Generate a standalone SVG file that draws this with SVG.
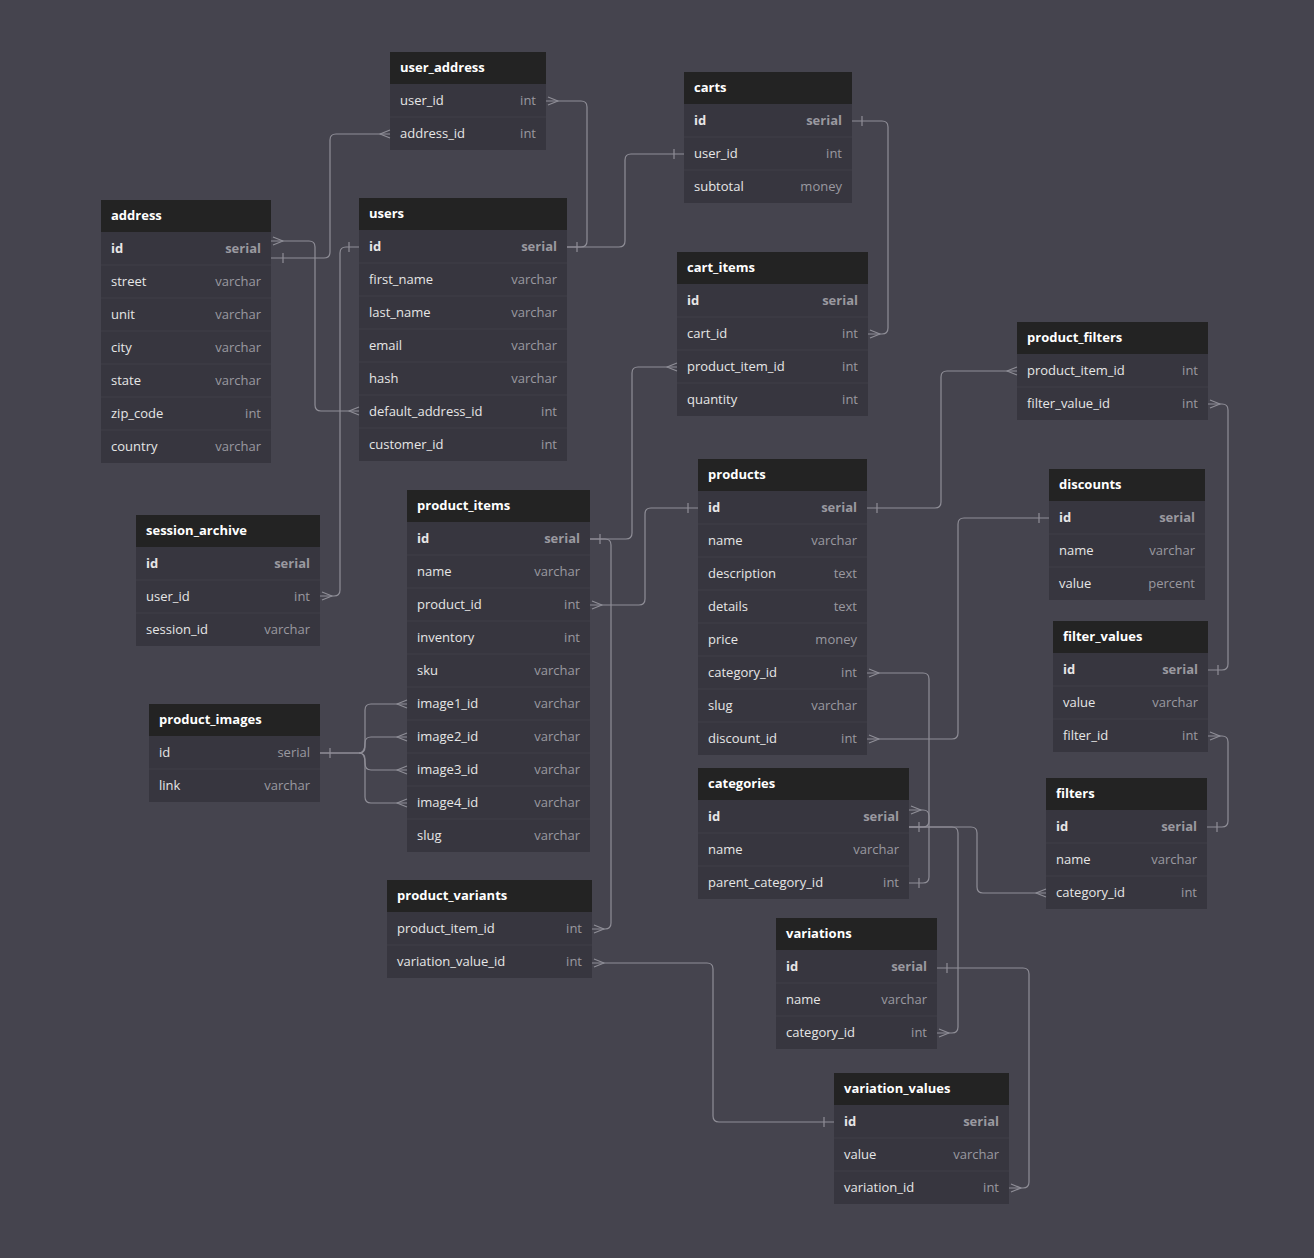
<svg xmlns="http://www.w3.org/2000/svg" width="1314" height="1258" viewBox="0 0 1314 1258">
<style>
.bg{fill:#45444e}
.hd{fill:#232323}
.bd{fill:#37363f}
.sep{stroke:#413f48;stroke-width:1}
.t{font-family:"Open Sans","Noto Sans",sans-serif;font-size:13px;fill:#e6e6e6}
.h{font-family:"Open Sans","Noto Sans",sans-serif;font-size:13px;font-weight:bold;fill:#ffffff}
.b{font-weight:bold}
.ty{font-family:"Open Sans","Noto Sans",sans-serif;font-size:13px;fill:#9a99a0;text-anchor:end}
.c{fill:none;stroke:#8f8e97;stroke-width:1.2;stroke-linejoin:round}
</style>
<rect class="bg" width="1314" height="1258"/>

<g id="user_address">
<rect class="hd" x="390" y="52" width="156" height="32"/><rect class="bd" x="390" y="84" width="156" height="66"/>
<line class="sep" x1="390" y1="117" x2="546" y2="117"/>
<text class="h" x="400" y="72">user_address</text>
<text class="t" x="400" y="105">user_id</text><text class="ty" x="536" y="105">int</text>
<text class="t" x="400" y="138">address_id</text><text class="ty" x="536" y="138">int</text>
</g>

<g id="carts">
<rect class="hd" x="684" y="72" width="168" height="32"/><rect class="bd" x="684" y="104" width="168" height="99"/>
<line class="sep" x1="684" y1="137" x2="852" y2="137"/><line class="sep" x1="684" y1="170" x2="852" y2="170"/>
<text class="h" x="694" y="92">carts</text>
<text class="t b" x="694" y="125">id</text><text class="ty b" x="842" y="125">serial</text>
<text class="t" x="694" y="158">user_id</text><text class="ty" x="842" y="158">int</text>
<text class="t" x="694" y="191">subtotal</text><text class="ty" x="842" y="191">money</text>
</g>

<g id="address">
<rect class="hd" x="101" y="200" width="170" height="32"/><rect class="bd" x="101" y="232" width="170" height="231"/>
<line class="sep" x1="101" y1="265" x2="271" y2="265"/><line class="sep" x1="101" y1="298" x2="271" y2="298"/><line class="sep" x1="101" y1="331" x2="271" y2="331"/><line class="sep" x1="101" y1="364" x2="271" y2="364"/><line class="sep" x1="101" y1="397" x2="271" y2="397"/><line class="sep" x1="101" y1="430" x2="271" y2="430"/>
<text class="h" x="111" y="220">address</text>
<text class="t b" x="111" y="253">id</text><text class="ty b" x="261" y="253">serial</text>
<text class="t" x="111" y="286">street</text><text class="ty" x="261" y="286">varchar</text>
<text class="t" x="111" y="319">unit</text><text class="ty" x="261" y="319">varchar</text>
<text class="t" x="111" y="352">city</text><text class="ty" x="261" y="352">varchar</text>
<text class="t" x="111" y="385">state</text><text class="ty" x="261" y="385">varchar</text>
<text class="t" x="111" y="418">zip_code</text><text class="ty" x="261" y="418">int</text>
<text class="t" x="111" y="451">country</text><text class="ty" x="261" y="451">varchar</text>
</g>

<g id="users">
<rect class="hd" x="359" y="198" width="208" height="32"/><rect class="bd" x="359" y="230" width="208" height="231"/>
<line class="sep" x1="359" y1="263" x2="567" y2="263"/><line class="sep" x1="359" y1="296" x2="567" y2="296"/><line class="sep" x1="359" y1="329" x2="567" y2="329"/><line class="sep" x1="359" y1="362" x2="567" y2="362"/><line class="sep" x1="359" y1="395" x2="567" y2="395"/><line class="sep" x1="359" y1="428" x2="567" y2="428"/>
<text class="h" x="369" y="218">users</text>
<text class="t b" x="369" y="251">id</text><text class="ty b" x="557" y="251">serial</text>
<text class="t" x="369" y="284">first_name</text><text class="ty" x="557" y="284">varchar</text>
<text class="t" x="369" y="317">last_name</text><text class="ty" x="557" y="317">varchar</text>
<text class="t" x="369" y="350">email</text><text class="ty" x="557" y="350">varchar</text>
<text class="t" x="369" y="383">hash</text><text class="ty" x="557" y="383">varchar</text>
<text class="t" x="369" y="416">default_address_id</text><text class="ty" x="557" y="416">int</text>
<text class="t" x="369" y="449">customer_id</text><text class="ty" x="557" y="449">int</text>
</g>

<g id="cart_items">
<rect class="hd" x="677" y="252" width="191" height="32"/><rect class="bd" x="677" y="284" width="191" height="132"/>
<line class="sep" x1="677" y1="317" x2="868" y2="317"/><line class="sep" x1="677" y1="350" x2="868" y2="350"/><line class="sep" x1="677" y1="383" x2="868" y2="383"/>
<text class="h" x="687" y="272">cart_items</text>
<text class="t b" x="687" y="305">id</text><text class="ty b" x="858" y="305">serial</text>
<text class="t" x="687" y="338">cart_id</text><text class="ty" x="858" y="338">int</text>
<text class="t" x="687" y="371">product_item_id</text><text class="ty" x="858" y="371">int</text>
<text class="t" x="687" y="404">quantity</text><text class="ty" x="858" y="404">int</text>
</g>

<g id="product_filters">
<rect class="hd" x="1017" y="322" width="191" height="32"/><rect class="bd" x="1017" y="354" width="191" height="66"/>
<line class="sep" x1="1017" y1="387" x2="1208" y2="387"/>
<text class="h" x="1027" y="342">product_filters</text>
<text class="t" x="1027" y="375">product_item_id</text><text class="ty" x="1198" y="375">int</text>
<text class="t" x="1027" y="408">filter_value_id</text><text class="ty" x="1198" y="408">int</text>
</g>

<g id="products">
<rect class="hd" x="698" y="459" width="169" height="32"/><rect class="bd" x="698" y="491" width="169" height="264"/>
<line class="sep" x1="698" y1="524" x2="867" y2="524"/><line class="sep" x1="698" y1="557" x2="867" y2="557"/><line class="sep" x1="698" y1="590" x2="867" y2="590"/><line class="sep" x1="698" y1="623" x2="867" y2="623"/><line class="sep" x1="698" y1="656" x2="867" y2="656"/><line class="sep" x1="698" y1="689" x2="867" y2="689"/><line class="sep" x1="698" y1="722" x2="867" y2="722"/>
<text class="h" x="708" y="479">products</text>
<text class="t b" x="708" y="512">id</text><text class="ty b" x="857" y="512">serial</text>
<text class="t" x="708" y="545">name</text><text class="ty" x="857" y="545">varchar</text>
<text class="t" x="708" y="578">description</text><text class="ty" x="857" y="578">text</text>
<text class="t" x="708" y="611">details</text><text class="ty" x="857" y="611">text</text>
<text class="t" x="708" y="644">price</text><text class="ty" x="857" y="644">money</text>
<text class="t" x="708" y="677">category_id</text><text class="ty" x="857" y="677">int</text>
<text class="t" x="708" y="710">slug</text><text class="ty" x="857" y="710">varchar</text>
<text class="t" x="708" y="743">discount_id</text><text class="ty" x="857" y="743">int</text>
</g>

<g id="discounts">
<rect class="hd" x="1049" y="469" width="156" height="32"/><rect class="bd" x="1049" y="501" width="156" height="99"/>
<line class="sep" x1="1049" y1="534" x2="1205" y2="534"/><line class="sep" x1="1049" y1="567" x2="1205" y2="567"/>
<text class="h" x="1059" y="489">discounts</text>
<text class="t b" x="1059" y="522">id</text><text class="ty b" x="1195" y="522">serial</text>
<text class="t" x="1059" y="555">name</text><text class="ty" x="1195" y="555">varchar</text>
<text class="t" x="1059" y="588">value</text><text class="ty" x="1195" y="588">percent</text>
</g>

<g id="filter_values">
<rect class="hd" x="1053" y="621" width="155" height="32"/><rect class="bd" x="1053" y="653" width="155" height="99"/>
<line class="sep" x1="1053" y1="686" x2="1208" y2="686"/><line class="sep" x1="1053" y1="719" x2="1208" y2="719"/>
<text class="h" x="1063" y="641">filter_values</text>
<text class="t b" x="1063" y="674">id</text><text class="ty b" x="1198" y="674">serial</text>
<text class="t" x="1063" y="707">value</text><text class="ty" x="1198" y="707">varchar</text>
<text class="t" x="1063" y="740">filter_id</text><text class="ty" x="1198" y="740">int</text>
</g>

<g id="filters">
<rect class="hd" x="1046" y="778" width="161" height="32"/><rect class="bd" x="1046" y="810" width="161" height="99"/>
<line class="sep" x1="1046" y1="843" x2="1207" y2="843"/><line class="sep" x1="1046" y1="876" x2="1207" y2="876"/>
<text class="h" x="1056" y="798">filters</text>
<text class="t b" x="1056" y="831">id</text><text class="ty b" x="1197" y="831">serial</text>
<text class="t" x="1056" y="864">name</text><text class="ty" x="1197" y="864">varchar</text>
<text class="t" x="1056" y="897">category_id</text><text class="ty" x="1197" y="897">int</text>
</g>

<g id="categories">
<rect class="hd" x="698" y="768" width="211" height="32"/><rect class="bd" x="698" y="800" width="211" height="99"/>
<line class="sep" x1="698" y1="833" x2="909" y2="833"/><line class="sep" x1="698" y1="866" x2="909" y2="866"/>
<text class="h" x="708" y="788">categories</text>
<text class="t b" x="708" y="821">id</text><text class="ty b" x="899" y="821">serial</text>
<text class="t" x="708" y="854">name</text><text class="ty" x="899" y="854">varchar</text>
<text class="t" x="708" y="887">parent_category_id</text><text class="ty" x="899" y="887">int</text>
</g>

<g id="variations">
<rect class="hd" x="776" y="918" width="161" height="32"/><rect class="bd" x="776" y="950" width="161" height="99"/>
<line class="sep" x1="776" y1="983" x2="937" y2="983"/><line class="sep" x1="776" y1="1016" x2="937" y2="1016"/>
<text class="h" x="786" y="938">variations</text>
<text class="t b" x="786" y="971">id</text><text class="ty b" x="927" y="971">serial</text>
<text class="t" x="786" y="1004">name</text><text class="ty" x="927" y="1004">varchar</text>
<text class="t" x="786" y="1037">category_id</text><text class="ty" x="927" y="1037">int</text>
</g>

<g id="variation_values">
<rect class="hd" x="834" y="1073" width="175" height="32"/><rect class="bd" x="834" y="1105" width="175" height="99"/>
<line class="sep" x1="834" y1="1138" x2="1009" y2="1138"/><line class="sep" x1="834" y1="1171" x2="1009" y2="1171"/>
<text class="h" x="844" y="1093">variation_values</text>
<text class="t b" x="844" y="1126">id</text><text class="ty b" x="999" y="1126">serial</text>
<text class="t" x="844" y="1159">value</text><text class="ty" x="999" y="1159">varchar</text>
<text class="t" x="844" y="1192">variation_id</text><text class="ty" x="999" y="1192">int</text>
</g>

<g id="session_archive">
<rect class="hd" x="136" y="515" width="184" height="32"/><rect class="bd" x="136" y="547" width="184" height="99"/>
<line class="sep" x1="136" y1="580" x2="320" y2="580"/><line class="sep" x1="136" y1="613" x2="320" y2="613"/>
<text class="h" x="146" y="535">session_archive</text>
<text class="t b" x="146" y="568">id</text><text class="ty b" x="310" y="568">serial</text>
<text class="t" x="146" y="601">user_id</text><text class="ty" x="310" y="601">int</text>
<text class="t" x="146" y="634">session_id</text><text class="ty" x="310" y="634">varchar</text>
</g>

<g id="product_items">
<rect class="hd" x="407" y="490" width="183" height="32"/><rect class="bd" x="407" y="522" width="183" height="330"/>
<line class="sep" x1="407" y1="555" x2="590" y2="555"/><line class="sep" x1="407" y1="588" x2="590" y2="588"/><line class="sep" x1="407" y1="621" x2="590" y2="621"/><line class="sep" x1="407" y1="654" x2="590" y2="654"/><line class="sep" x1="407" y1="687" x2="590" y2="687"/><line class="sep" x1="407" y1="720" x2="590" y2="720"/><line class="sep" x1="407" y1="753" x2="590" y2="753"/><line class="sep" x1="407" y1="786" x2="590" y2="786"/><line class="sep" x1="407" y1="819" x2="590" y2="819"/>
<text class="h" x="417" y="510">product_items</text>
<text class="t b" x="417" y="543">id</text><text class="ty b" x="580" y="543">serial</text>
<text class="t" x="417" y="576">name</text><text class="ty" x="580" y="576">varchar</text>
<text class="t" x="417" y="609">product_id</text><text class="ty" x="580" y="609">int</text>
<text class="t" x="417" y="642">inventory</text><text class="ty" x="580" y="642">int</text>
<text class="t" x="417" y="675">sku</text><text class="ty" x="580" y="675">varchar</text>
<text class="t" x="417" y="708">image1_id</text><text class="ty" x="580" y="708">varchar</text>
<text class="t" x="417" y="741">image2_id</text><text class="ty" x="580" y="741">varchar</text>
<text class="t" x="417" y="774">image3_id</text><text class="ty" x="580" y="774">varchar</text>
<text class="t" x="417" y="807">image4_id</text><text class="ty" x="580" y="807">varchar</text>
<text class="t" x="417" y="840">slug</text><text class="ty" x="580" y="840">varchar</text>
</g>

<g id="product_images">
<rect class="hd" x="149" y="704" width="171" height="32"/><rect class="bd" x="149" y="736" width="171" height="66"/>
<line class="sep" x1="149" y1="769" x2="320" y2="769"/>
<text class="h" x="159" y="724">product_images</text>
<text class="t" x="159" y="757">id</text><text class="ty" x="310" y="757">serial</text>
<text class="t" x="159" y="790">link</text><text class="ty" x="310" y="790">varchar</text>
</g>

<g id="product_variants">
<rect class="hd" x="387" y="880" width="205" height="32"/><rect class="bd" x="387" y="912" width="205" height="66"/>
<line class="sep" x1="387" y1="945" x2="592" y2="945"/>
<text class="h" x="397" y="900">product_variants</text>
<text class="t" x="397" y="933">product_item_id</text><text class="ty" x="582" y="933">int</text>
<text class="t" x="397" y="966">variation_value_id</text><text class="ty" x="582" y="966">int</text>
</g>

<g id="connectors">
<!-- address.id > users.default_address_id -->
<path class="c" d="M271,241 H309 Q315,241 315,247 V405 Q315,411 321,411 H359"/>
<path class="c" d="M273,237 L283,241 L273,245"/><path class="c" d="M359,407 L349,411 L359,415"/>
<!-- address.id -> user_address.address_id -->
<path class="c" d="M271,258 H324 Q330,258 330,252 V140 Q330,134 336,134 H390"/>
<path class="c" d="M283,253 V263"/><path class="c" d="M390,130 L380,134 L390,138"/>
<!-- users.id -> user_address.user_id -->
<path class="c" d="M567,247 H581 Q587,247 587,241 V107 Q587,101 581,101 H546"/>
<path class="c" d="M577,242 V252"/><path class="c" d="M548,97 L558,101 L548,105"/>
<!-- users.id -> carts.user_id -->
<path class="c" d="M567,247 H619 Q625,247 625,241 V160 Q625,154 631,154 H684"/>
<path class="c" d="M674,149 V159"/>
<!-- users.id -> session_archive.user_id -->
<path class="c" d="M359,247 H346 Q340,247 340,253 V590 Q340,596 334,596 H320"/>
<path class="c" d="M349,242 V252"/><path class="c" d="M322,592 L332,596 L322,600"/>
<!-- carts.id -> cart_items.cart_id -->
<path class="c" d="M852,121 H882 Q888,121 888,127 V328 Q888,334 882,334 H868"/>
<path class="c" d="M862,116 V126"/><path class="c" d="M870,330 L880,334 L870,338"/>
<!-- cart_items.product_item_id -> product_items.id -->
<path class="c" d="M677,367 H638 Q632,367 632,373 V533 Q632,539 626,539 H590"/>
<path class="c" d="M677,363 L667,367 L677,371"/><path class="c" d="M600,534 V544"/>
<!-- product_variants.product_item_id -> product_items.id -->
<path class="c" d="M592,929 H605 Q611,929 611,923 V545 Q611,539 605,539 H590"/>
<path class="c" d="M594,925 L604,929 L594,933"/>
<!-- product_items.product_id -> products.id -->
<path class="c" d="M590,605 H639 Q645,605 645,599 V514 Q645,508 651,508 H698"/>
<path class="c" d="M592,601 L602,605 L592,609"/><path class="c" d="M688,503 V513"/>
<!-- products.id -> product_filters.product_item_id -->
<path class="c" d="M867,508 H935 Q941,508 941,502 V377 Q941,371 947,371 H1017"/>
<path class="c" d="M877,503 V513"/><path class="c" d="M1017,367 L1007,371 L1017,375"/>
<!-- product_filters.filter_value_id -> filter_values.id -->
<path class="c" d="M1208,404 H1222 Q1228,404 1228,410 V664 Q1228,670 1222,670 H1208"/>
<path class="c" d="M1210,400 L1220,404 L1210,408"/><path class="c" d="M1218,665 V675"/>
<!-- filter_values.filter_id -> filters.id -->
<path class="c" d="M1208,736 H1222 Q1228,736 1228,742 V821 Q1228,827 1222,827 H1207"/>
<path class="c" d="M1210,732 L1220,736 L1210,740"/><path class="c" d="M1217,822 V832"/>
<!-- products.discount_id -> discounts.id -->
<path class="c" d="M867,739 H952 Q958,739 958,733 V524 Q958,518 964,518 H1049"/>
<path class="c" d="M869,735 L879,739 L869,743"/><path class="c" d="M1039,513 V523"/>
<!-- products.category_id -> categories.id -->
<path class="c" d="M867,673 H923 Q929,673 929,679 V821 Q929,827 923,827 H909"/>
<path class="c" d="M869,669 L879,673 L869,677"/>
<!-- categories.parent_category_id -> categories.id -->
<path class="c" d="M909,810 H923 Q929,810 929,816 V877 Q929,883 923,883 H909"/>
<path class="c" d="M911,806 L921,810 L911,814"/><path class="c" d="M919,878 V888"/>
<path class="c" d="M919,822 V832"/>
<!-- categories.id -> variations.category_id -->
<path class="c" d="M909,827 H952 Q958,827 958,833 V1027 Q958,1033 952,1033 H937"/>
<path class="c" d="M939,1029 L949,1033 L939,1037"/>
<!-- categories.id -> filters.category_id -->
<path class="c" d="M909,827 H971 Q977,827 977,833 V887 Q977,893 983,893 H1046"/>
<path class="c" d="M1046,889 L1036,893 L1046,897"/>
<!-- product_images.id -> image1..4 -->
<path class="c" d="M320,753 H359 Q365,753 365,747 V710 Q365,704 371,704 H407"/>
<path class="c" d="M359,753 Q365,753 365,743 Q365,737 371,737 H407"/>
<path class="c" d="M359,753 Q365,753 365,763 Q365,770 371,770 H407"/>
<path class="c" d="M320,753 H359 Q365,753 365,759 V797 Q365,803 371,803 H407"/>
<path class="c" d="M330,748 V758"/>
<path class="c" d="M407,700 L397,704 L407,708"/><path class="c" d="M407,733 L397,737 L407,741"/><path class="c" d="M407,766 L397,770 L407,774"/><path class="c" d="M407,799 L397,803 L407,807"/>
<!-- product_variants.variation_value_id -> variation_values.id -->
<path class="c" d="M592,963 H707 Q713,963 713,969 V1116 Q713,1122 719,1122 H834"/>
<path class="c" d="M594,959 L604,963 L594,967"/><path class="c" d="M824,1117 V1127"/>
<!-- variations.id -> variation_values.variation_id -->
<path class="c" d="M937,968 H1023 Q1029,968 1029,974 V1182 Q1029,1188 1023,1188 H1009"/>
<path class="c" d="M947,963 V973"/><path class="c" d="M1011,1184 L1021,1188 L1011,1192"/>
</g>
</svg>
